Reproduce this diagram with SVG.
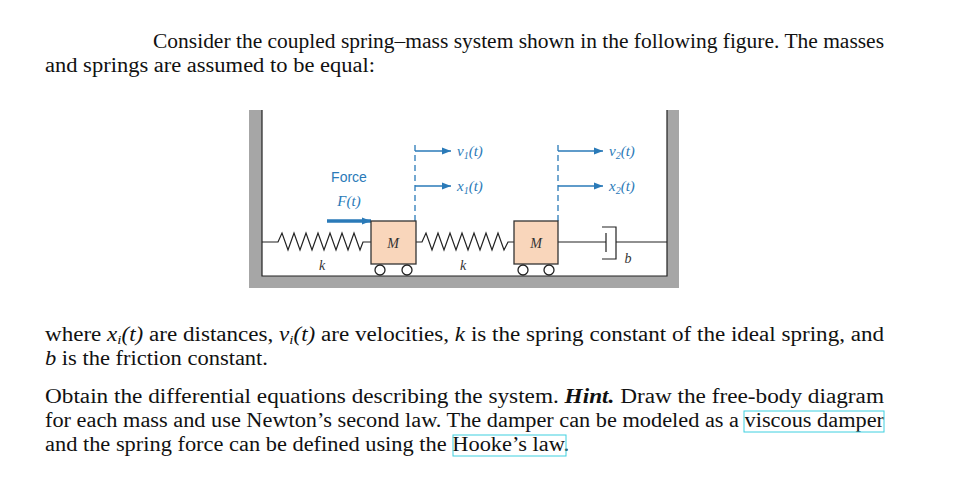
<svg xmlns="http://www.w3.org/2000/svg" width="962" height="477" viewBox="0 0 962 477">
<style>
.t{font-family:"Liberation Serif",serif;font-size:20px;fill:#111}
.b{font-family:"Liberation Sans",sans-serif;font-size:14px;fill:#2a7ab8}
.bi{font-family:"Liberation Serif",serif;font-style:italic;font-size:15px;fill:#2a7ab8}
.lk{font-family:"Liberation Serif",serif;font-style:italic;font-size:14px;fill:#333}
.bl{stroke:#2a7ab8;stroke-width:1.3;fill:none}
.d{stroke:#2a7ab8;stroke-width:1.3;stroke-dasharray:6,4}
.k{stroke:#222;fill:none;stroke-width:1.2}
</style>
<defs><marker id="ah" viewBox="0 0 10 10" refX="10" refY="5" markerUnits="userSpaceOnUse" markerWidth="10" markerHeight="9" orient="auto"><path d="M0,1 L10,5 L0,9z" fill="#2a7ab8"/></marker></defs>
<rect width="962" height="477" fill="#fff"/>
<text class="t" x="153" y="48" textLength="731" lengthAdjust="spacingAndGlyphs">Consider the coupled spring–mass system shown in the following figure. The masses</text>
<text class="t" x="45" y="72" textLength="330" lengthAdjust="spacingAndGlyphs">and springs are assumed to be equal:</text>
<g id="frame">
<path d="M249,110 V288 H679 V110 H667 V276 H262 V110 Z" fill="#a6a6a6"/>
<path d="M262,110 V276 H667 V110" class="k" stroke-width="2"/>
</g>
<g id="connectors">
<path class="k" d="M262,242 H278 L282,233 L288,250 L294,233 L300,250 L306,233 L312,250 L318,233 L324,250 L330,233 L336,250 L342,233 L348,250 L354,233 L360,250 L363,242 H371"/>
<path class="k" d="M416,242 H422 L426,233 L432,250 L438,233 L444,250 L450,233 L456,250 L462,233 L468,250 L474,233 L480,250 L486,233 L492,250 L498,233 L504,250 L508,242 H514"/>
<path class="k" d="M558,242 H606 M606,233 V252 M602,227 H616 V259 H602 M616,242 H667" stroke-width="1.5"/>
<path d="M327,221 H371" stroke="#2a7ab8" stroke-width="3.5" marker-end="url(#ah)"/>
<line class="d" x1="415" y1="145" x2="415" y2="221"/><line class="d" x1="558" y1="145" x2="558" y2="221"/>
<line class="bl" x1="415" y1="151" x2="451" y2="151" marker-end="url(#ah)"/>
<line class="bl" x1="415" y1="186" x2="451" y2="186" marker-end="url(#ah)"/>
<line class="bl" x1="558" y1="151" x2="603" y2="151" marker-end="url(#ah)"/>
<line class="bl" x1="558" y1="186" x2="603" y2="186" marker-end="url(#ah)"/>
</g>
<g id="mass1"><rect x="371" y="221" width="45" height="43" fill="#f9d6bb" stroke="#333" stroke-width="1.3"/><text class="lk" x="393" y="248" text-anchor="middle">M</text><circle cx="380" cy="270" r="5" fill="#fff" stroke="#222" stroke-width="1.3"/><circle cx="407" cy="270" r="5" fill="#fff" stroke="#222" stroke-width="1.3"/></g>
<g id="mass2"><rect x="514" y="221" width="44" height="43" fill="#f9d6bb" stroke="#333" stroke-width="1.3"/><text class="lk" x="536" y="248" text-anchor="middle">M</text><circle cx="523" cy="270" r="5" fill="#fff" stroke="#222" stroke-width="1.3"/><circle cx="549" cy="270" r="5" fill="#fff" stroke="#222" stroke-width="1.3"/></g>
<g id="labels">
<text class="lk" x="322" y="270" text-anchor="middle">k</text>
<text class="lk" x="463" y="270" text-anchor="middle">k</text>
<text class="lk" x="628" y="263" text-anchor="middle">b</text>
<text class="b" x="349" y="182" text-anchor="middle">Force</text>
<text class="bi" x="349" y="206" text-anchor="middle">F(t)</text>
<text class="bi" x="457" y="156">v<tspan font-size="10" dy="3">1</tspan><tspan dy="-3">(t)</tspan></text>
<text class="bi" x="457" y="191">x<tspan font-size="10" dy="3">1</tspan><tspan dy="-3">(t)</tspan></text>
<text class="bi" x="609" y="156">v<tspan font-size="10" dy="3">2</tspan><tspan dy="-3">(t)</tspan></text>
<text class="bi" x="609" y="191">x<tspan font-size="10" dy="3">2</tspan><tspan dy="-3">(t)</tspan></text>
</g>
<text class="t" x="45" y="341" textLength="839" lengthAdjust="spacingAndGlyphs">where <tspan font-style="italic">x<tspan font-size="13" dy="3">i</tspan><tspan dy="-3">(t)</tspan></tspan> are distances, <tspan font-style="italic">v<tspan font-size="13" dy="3">i</tspan><tspan dy="-3">(t)</tspan></tspan> are velocities, <tspan font-style="italic">k</tspan> is the spring constant of the ideal spring, and</text>
<text class="t" x="45" y="365" textLength="223" lengthAdjust="spacingAndGlyphs"><tspan font-style="italic">b</tspan> is the friction constant.</text>
<text class="t" x="45" y="403" textLength="839" lengthAdjust="spacingAndGlyphs">Obtain the differential equations describing the system. <tspan font-weight="bold" font-style="italic">Hint.</tspan> Draw the free-body diagram</text>
<text class="t" x="45" y="427" textLength="839" lengthAdjust="spacingAndGlyphs">for each mass and use Newton’s second law. The damper can be modeled as a viscous damper</text>
<text class="t" x="45" y="451" textLength="524" lengthAdjust="spacingAndGlyphs">and the spring force can be defined using the Hooke’s law.</text>
<rect x="744" y="411" width="140" height="21" fill="none" stroke="#3fd0e0"/>
<rect x="453" y="435" width="113" height="21" fill="none" stroke="#3fd0e0"/>
</svg>
